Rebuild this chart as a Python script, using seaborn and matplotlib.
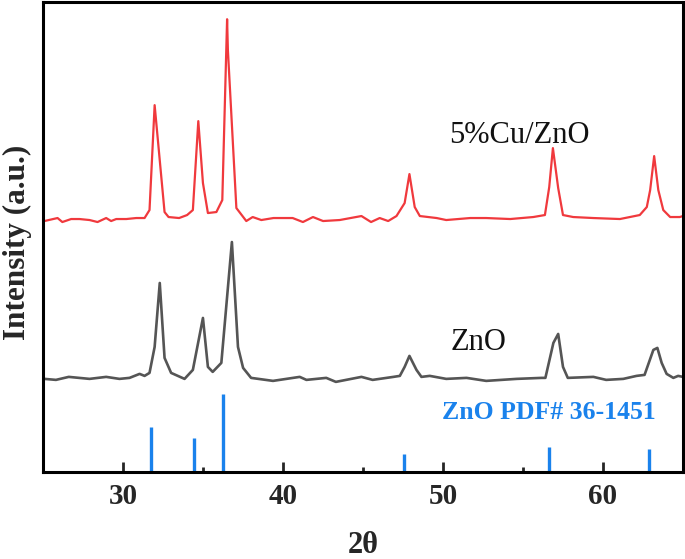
import matplotlib
matplotlib.use("Agg")
import matplotlib.pyplot as plt
from matplotlib.ticker import MultipleLocator
import seaborn as sns
import pandas as pd

FIG_SIZE = (6.85, 5.59)

# 5%Cu/ZnO pattern (2theta, intensity in a.u.)
cu_two_theta = [25.08, 25.9, 26.2, 26.75, 27.27, 27.9, 28.4, 28.94, 29.25, 29.57, 30.2, 30.82, 31.34,
                31.65, 31.97, 32.59, 32.84, 33.5, 34.0, 34.36, 34.7, 34.99, 35.3, 35.83, 36.2, 36.5,
                36.55, 37.08, 37.7, 38.1, 38.64, 39.4, 40.6, 41.24, 41.87, 42.5, 43.54, 44.9, 45.5,
                46.04, 46.57, 47.09, 47.6, 47.9, 48.23, 48.55, 49.6, 50.2, 51.7, 52.7, 54.2, 55.64,
                56.37, 56.64, 56.87, 57.2, 57.5, 58.14, 59.4, 61.06, 62.3, 62.74, 62.95, 63.2,
                63.46, 63.77, 64.2, 64.8, 65.0]
cu_intensity = [251, 254, 250, 253, 253, 252, 250, 254, 251, 253, 253, 254, 254,
                262, 367, 260, 255, 254, 257, 262, 351, 289, 259, 260, 272, 453,
                422, 264, 251, 255, 252, 254, 254, 250, 255, 251, 252, 256, 250,
                254, 251, 256, 269, 298, 265, 256, 254, 252, 254, 254, 253, 255,
                257, 285, 324, 284, 257, 255, 254, 253, 257, 265, 282, 316,
                282, 262, 255, 255, 256]

# ZnO pattern
zno_two_theta = [25.08, 25.8, 26.6, 27.9, 28.94, 29.77, 30.4, 31.03, 31.34, 31.65, 31.97, 32.29,
                 32.59, 33.0, 33.84, 34.36, 34.99, 35.3, 35.6, 36.14, 36.8, 37.18, 37.5, 38.0,
                 39.37, 41.04, 41.46, 42.7, 43.3, 44.9, 45.6, 46.9, 47.3, 47.6, 47.9, 48.34,
                 48.65, 49.17, 50.2, 51.47, 52.7, 54.6, 56.16, 56.4, 56.9, 57.2, 57.5, 57.8,
                 59.4, 60.2, 61.27, 62.1, 62.6, 63.15, 63.4, 63.67, 63.98, 64.4, 64.7, 65.0]
zno_intensity = [93, 92, 95, 93, 95, 93, 94, 98, 96, 99, 125, 189,
                 114, 99, 93, 102, 154, 105, 100, 109, 230, 125, 104, 94,
                 91, 95, 92, 94, 90, 95, 92, 95, 96, 105, 116, 102,
                 95, 96, 93, 94, 91, 93, 94, 94, 129, 138, 105, 94,
                 95, 92, 93, 96, 97, 122, 124, 109, 98, 94, 96, 95]

# reference card ZnO PDF# 36-1451
pdf_two_theta = [31.77, 34.42, 36.25, 47.54, 56.60, 62.86]
pdf_rel_intensity = [57, 44, 100, 23, 32, 29]

PDF_STICK_MAX = 78  # height of the 100% stick on the intensity axis

sns.set_theme(style="ticks")
plt.rcParams["font.family"] = ["Liberation Serif", "DejaVu Serif"]

fig = plt.figure(figsize=FIG_SIZE, dpi=100)
ax = fig.add_axes([0.063, 0.156, 0.934, 0.840])

cu_df = pd.DataFrame({"two_theta": cu_two_theta, "intensity": cu_intensity})
zno_df = pd.DataFrame({"two_theta": zno_two_theta, "intensity": zno_intensity})

sns.lineplot(data=cu_df, x="two_theta", y="intensity", ax=ax, color="#F0393D",
             linewidth=1.6, sort=False, estimator=None)
sns.lineplot(data=zno_df, x="two_theta", y="intensity", ax=ax, color="#555555",
             linewidth=1.9, sort=False, estimator=None)

stick_heights = [v / 100 * PDF_STICK_MAX for v in pdf_rel_intensity]
ax.vlines(pdf_two_theta, 0, stick_heights, color="#1A82EC", linewidth=2.4)

ax.text(54.8, 337, "5%Cu/ZnO", fontsize=22, ha="center", va="center", color="#111111")
ax.text(52.2, 129, "ZnO", fontsize=22, ha="center", va="center", color="#111111")
ax.text(56.6, 59, "ZnO PDF# 36-1451", fontsize=18.5, fontweight="bold",
        ha="center", va="center", color="#1A82EC")

ax.set_xlim(25, 65)
ax.set_ylim(0, 470)
ax.xaxis.set_major_locator(MultipleLocator(10))
ax.xaxis.set_minor_locator(MultipleLocator(5))
ax.set_yticks([])
ax.tick_params(axis="x", which="major", direction="in", length=7, width=2, labelsize=21, pad=8)
ax.tick_params(axis="x", which="minor", direction="in", length=3.5, width=2)
for label in ax.get_xticklabels():
    label.set_fontweight("bold")

for spine in ax.spines.values():
    spine.set_visible(True)
    spine.set_linewidth(2.2)
    spine.set_color("black")

ax.set_xlabel("2θ", fontsize=22, fontweight="bold", labelpad=15)
ax.set_ylabel("Intensity (a.u.)", fontsize=22.5, fontweight="bold")
ax.yaxis.set_label_coords(-0.018, 0.488)

fig.savefig("out.png", dpi=100)
